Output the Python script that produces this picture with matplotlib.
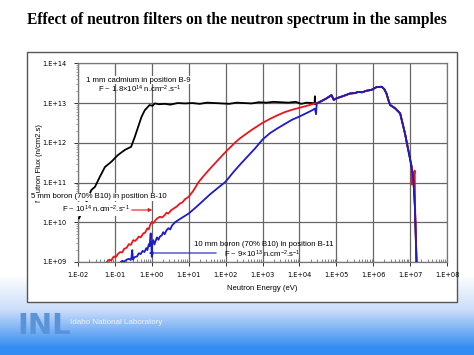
import numpy as np
import matplotlib
matplotlib.use("Agg")
import matplotlib.pyplot as plt
from matplotlib.patches import Rectangle, FancyArrowPatch

plt.rcParams["mathtext.fontset"] = "custom"
plt.rcParams["mathtext.rm"] = "Liberation Sans"
plt.rcParams["mathtext.it"] = "Liberation Sans"

# ---------------- data (log10 energy [eV], log10 flux) ----------------
cd_logE = [-1.97, -1.80, -1.64, -1.54, -1.41, -1.27, -1.10, -0.92, -0.73, -0.56, -0.46,
           -0.37, -0.28, -0.19, -0.06, 0.02, 0.08, 0.20, 0.35, 0.50, 0.70, 0.90, 1.10,
           1.30, 1.50, 1.70, 1.90, 2.10, 2.30, 2.50, 2.70, 2.90, 3.10, 3.30, 3.50, 3.70,
           3.90, 4.05, 4.20, 4.35, 4.41, 4.42, 4.43]
cd_logF = [10.10, 10.45, 10.81, 10.89, 11.14, 11.39, 11.52, 11.69, 11.82, 11.90, 12.15,
           12.40, 12.65, 12.82, 12.95, 12.93, 12.99, 12.97, 12.98, 12.96, 13.00, 12.99, 13.00,
           12.98, 13.01, 13.00, 12.99, 12.98, 13.01, 13.00, 12.99, 13.02, 13.01, 13.03, 13.02,
           13.01, 13.03, 12.98, 13.01, 13.00, 12.99, 13.17, 12.97]

b5_logE = [-1.22, -1.15, -1.10, -1.03, -0.98, -0.92, -0.86, -0.80, -0.75, -0.68, -0.62,
           -0.57, -0.50, -0.45, -0.40, -0.35, -0.30, -0.23, -0.18, -0.12, -0.08, -0.05,
           0.00, 0.05, 0.10, 0.15, 0.22, 0.28, 0.35, 0.40, 0.45, 0.52, 0.60, 0.68, 0.76,
           0.83, 0.90, 1.00, 1.13, 1.26, 1.40, 1.55, 1.70, 1.85, 2.00, 2.12, 2.25, 2.40,
           2.55, 2.70, 2.85, 3.00, 3.20, 3.40, 3.60, 3.80, 4.00, 4.20, 4.35, 4.42]
b5_logF = [9.00, 9.06, 9.04, 9.14, 9.12, 9.20, 9.25, 9.24, 9.33, 9.36, 9.45,
           9.43, 9.55, 9.53, 9.58, 9.64, 9.62, 9.72, 9.74, 9.85, 9.82, 9.92,
           10.01, 9.98, 10.05, 10.10, 10.14, 10.12, 10.18, 10.24, 10.22, 10.30, 10.35, 10.40, 10.47,
           10.50, 10.58, 10.64, 10.80, 11.00, 11.16, 11.32, 11.47, 11.62, 11.77, 11.88, 12.00, 12.12,
           12.22, 12.32, 12.41, 12.50, 12.60, 12.69, 12.77, 12.83, 12.88, 12.93, 12.97, 12.99]

b10_logE = [-0.86, -0.80, -0.75, -0.68, -0.62, -0.57, -0.55, -0.53, -0.51, -0.47, -0.40,
            -0.35, -0.30, -0.25, -0.20, -0.15, -0.12, -0.08, -0.06, -0.03, -0.02, -0.01,
            0.00, 0.01, 0.04, 0.07, 0.10, 0.14, 0.18, 0.22, 0.27, 0.31, 0.35, 0.40, 0.45,
            0.50, 0.55, 0.63, 0.76, 1.00, 1.20, 1.40, 1.60, 1.80, 2.00, 2.20, 2.40, 2.60,
            2.80, 3.00, 3.20, 3.40, 3.60, 3.80, 4.00, 4.20, 4.35, 4.42, 4.45]
b10_logF = [8.98, 9.03, 9.01, 9.06, 9.08, 9.05, 9.12, 9.30, 9.06, 9.12, 9.14,
            9.22, 9.20, 9.28, 9.25, 9.35, 9.30, 9.45, 9.40, 9.72, 9.45, 9.38,
            9.13, 9.48, 9.55, 9.44, 9.52, 9.62, 9.56, 9.64, 9.67, 9.75, 9.70, 9.80, 9.85,
            9.82, 9.92, 10.00, 10.08, 10.22, 10.38, 10.55, 10.72, 10.87, 11.02, 11.25, 11.46, 11.66,
            11.86, 12.08, 12.24, 12.36, 12.47, 12.58, 12.66, 12.75, 12.82, 12.86, 12.72]

# common fast part of the spectrum
fast_logE = [4.47, 4.60, 4.74, 4.87, 4.93, 5.01, 5.20, 5.37, 5.50, 5.60, 5.70, 5.82, 5.95,
             6.09, 6.23, 6.30, 6.36, 6.42, 6.46, 6.59, 6.73, 6.86, 6.95, 7.04, 7.09, 7.13, 7.18]
fast_logF = [12.99, 13.05, 13.12, 13.20, 13.08, 13.12, 13.18, 13.24, 13.25, 13.28, 13.27, 13.31, 13.33,
             13.40, 13.41, 13.35, 13.24, 13.05, 12.95, 12.87, 12.74, 12.24, 11.82, 11.40, 11.06, 10.39, 8.80]

# red high-energy spikes
b5_spike_logE = [7.04, 7.045, 7.05, 7.09, 7.125, 7.13, 7.135, 7.18]
b5_spike_logF = [11.40, 10.95, 11.35, 11.10, 11.30, 10.90, 10.39, 8.80]

xtick_labels = ["1.E-02", "1.E-01", "1.E+00", "1.E+01", "1.E+02", "1.E+03",
                "1.E+04", "1.E+05", "1.E+06", "1.E+07", "1.E+08"]
ytick_labels = ["1.E+09", "1.E+10", "1.E+11", "1.E+12", "1.E+13", "1.E+14"]

W, H = 474, 355
fig = plt.figure(figsize=(W / 100, H / 100), dpi=100)

# background: white with blue gradient at the bottom
bg = fig.add_axes([0, 0, 1, 1], zorder=-10)
bg.set_axis_off()
ys = np.linspace(0, 1, 356)  # 0 = top
grad = np.zeros((356, 1, 3))
top = np.array([1.0, 1.0, 1.0])
mid = np.array([0.80, 0.87, 0.98])
bot = np.array([0.20, 0.55, 0.95])
for i, yy in enumerate(ys):
    ypx = yy * H
    if ypx < 275:
        c = top
    elif ypx < 310:
        t = (ypx - 275) / 35
        c = top * (1 - t) + mid * t
    else:
        t = min((ypx - 310) / 38, 1)
        c = mid * (1 - t) + bot * t
    grad[i, 0] = c
bg.imshow(grad, aspect="auto", extent=[0, 1, 0, 1])
bg.set_xlim(0, 1)
bg.set_ylim(0, 1)

# white chart box
box = Rectangle((27 / W, 1 - 302 / H), (457 - 27) / W, (302 - 52) / H,
                transform=fig.transFigure, facecolor="white", edgecolor="#555555",
                linewidth=1.0, zorder=-5)
fig.patches.append(box)

# title
fig.text(0.5, 1 - 20 / H, "Effect of neutron filters on the neutron spectrum in the samples",
         ha="center", va="center", family="Liberation Serif", weight="bold", fontsize=11.2)

# logo
fig.text(17 / W, 1 - 326 / H, "INL", ha="left", va="center", family="DejaVu Sans",
         weight="bold", fontsize=21, color="#5b93d8")
fig.text(70 / W, 1 - 323 / H, "Idaho National Laboratory", ha="left", va="center",
         family="Liberation Sans", fontsize=5.8, color="#eef2fb")

ax = fig.add_axes([78 / W, 1 - 262 / H, (447 - 78) / W, (262 - 63.3) / H])

tf = lambda a: [10 ** v for v in a]
ax.plot(tf(cd_logE + fast_logE), tf(cd_logF + fast_logF), color="black", lw=1.3, zorder=3)
ax.plot(tf(b5_logE + fast_logE[:-4]), tf(b5_logF + fast_logF[:-4]), color="#e8161c", lw=1.3, zorder=4)
ax.plot(tf(b5_spike_logE), tf(b5_spike_logF), color="#e8161c", lw=1.3, zorder=4)
ax.plot(tf(b10_logE + fast_logE), tf(b10_logF + fast_logF), color="#1c1cc4", lw=1.3, zorder=5)

ax.set_xscale("log")
ax.set_yscale("log")
ax.set_xlim(1e-2, 1e8)
ax.set_ylim(1e9, 1e14)
ax.set_xticks([10.0 ** k for k in range(-2, 9)])
ax.set_xticklabels(xtick_labels)
ax.set_yticks([10.0 ** k for k in range(9, 15)])
ax.set_yticklabels(ytick_labels)
ax.xaxis.set_minor_locator(matplotlib.ticker.LogLocator(base=10, subs=np.arange(2, 10), numticks=100))
ax.yaxis.set_minor_locator(matplotlib.ticker.LogLocator(base=10, subs=np.arange(2, 10), numticks=100))
ax.xaxis.set_minor_formatter(matplotlib.ticker.NullFormatter())
ax.yaxis.set_minor_formatter(matplotlib.ticker.NullFormatter())
ax.tick_params(axis="both", which="major", labelsize=4.8, length=3, width=0.7,
               colors="#333333", labelcolor="black")
ax.tick_params(axis="x", which="major", pad=4)
ax.tick_params(axis="y", which="major", pad=5)
ax.tick_params(axis="x", which="minor", direction="in", length=2, width=0.5, colors="#555555")
ax.tick_params(axis="y", which="minor", direction="out", length=1.5, width=0.5, colors="#777777")
ax.grid(True, which="major", color="#666666", lw=0.9)
ax.set_axisbelow(True)
for s in ax.spines.values():
    s.set_color("#777777")
    s.set_linewidth(0.9)

ax.set_xlabel("Neutron Energy (eV)", fontsize=5.5, family="Liberation Sans", labelpad=5)
ax.set_ylabel("Neutron Flux (n/cm2.s)", fontsize=5.5, family="Liberation Sans")
ax.yaxis.set_label_coords(-0.095, 0.5)

bb = dict(facecolor="white", edgecolor="none", pad=0.6)
fs = 5.6
fig.text(138 / W, 1 - 80 / H, "1 mm cadmium in position B-9", ha="center", va="center",
         fontsize=fs, family="Liberation Sans", bbox=bb, zorder=10)
fig.text(140 / W, 1 - 89 / H, r"F ~ 1.8$\times$10$^{14}$ n.cm$^{-2}$.s$^{-1}$", ha="center", va="center",
         fontsize=fs, family="Liberation Sans", zorder=10)
fig.text(98.5 / W, 1 - 197 / H, "5 mm boron (70% B10) in position B-10", ha="center", va="center",
         fontsize=fs, family="Liberation Sans", bbox=bb, zorder=10)
fig.text(96 / W, 1 - 209 / H, r"F ~ 10$^{14}$ n.cm$^{-2}$.s$^{-1}$", ha="center", va="center",
         fontsize=fs, family="Liberation Sans", bbox=bb, zorder=10)
fig.text(264 / W, 1 - 244 / H, "10 mm boron (70% B10) in position B-11", ha="center", va="center",
         fontsize=fs, family="Liberation Sans", zorder=10)
fig.text(262 / W, 1 - 254 / H, r"F ~ 9$\times$10$^{13}$ n.cm$^{-2}$.s$^{-1}$", ha="center", va="center",
         fontsize=fs, family="Liberation Sans", zorder=10)

fig.add_artist(FancyArrowPatch((129 / W, 1 - 210 / H), (155 / W, 1 - 210 / H),
               transform=fig.transFigure, arrowstyle="-|>", mutation_scale=5, color="#e8161c", lw=0.8))
fig.add_artist(FancyArrowPatch((219 / W, 1 - 253 / H), (146 / W, 1 - 253 / H),
               transform=fig.transFigure, arrowstyle="-|>", mutation_scale=5, color="#1c1cc4", lw=0.8))

fig.savefig("out.png", dpi=100)
